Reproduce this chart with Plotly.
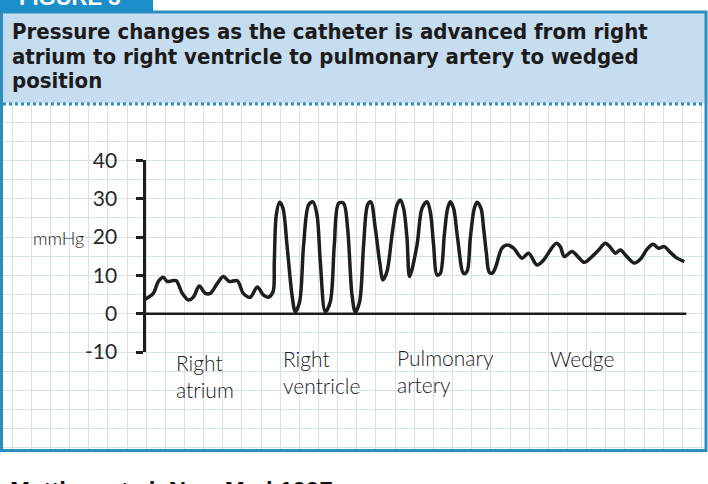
import plotly.graph_objects as go

# pressure trace (time in arbitrary units, mmHg)
time = [1, 9, 14, 19, 23, 28, 32, 38, 44, 49, 55, 61, 66, 73, 79, 85, 93, 99,
        106, 113, 119, 124, 128.7,
        130, 132, 135.3, 138.7, 142.7, 147.7, 151, 155.3, 159.3, 164.3, 168.7,
        172.7, 176, 181, 186, 190, 194.3, 199.3, 203.3, 207.7, 211, 215.3,
        219.3, 223.3, 226.5, 231, 235.3, 238.7,
        242.7, 247.7, 252.7, 256, 259.3, 262.7, 265.3, 272.7, 277.7, 282.7,
        286, 289.3, 292.7, 296, 300, 303.3, 306, 309.3, 313.3, 319.3, 322.7,
        326, 330, 332.7, 336.7, 339.3, 342, 345, 348, 351,
        357.7, 363.3, 369.3, 377.7, 384.3, 392.7, 399.3, 406, 412, 416, 420,
        427.7, 434.3, 440, 447.7, 454.3, 461, 466.7, 471, 476, 482.7, 490,
        496, 502.7, 508.7, 514.3, 520, 526, 532.7, 540]
pressure = [3.8, 5.3, 8.4, 9.5, 8.4, 8.6, 8.6, 5.3, 3.6, 4.3, 7.2, 5.3, 5.3,
            7.9, 9.7, 8.4, 8.6, 5.3, 4.3, 7.0, 4.9, 4.3, 5.7,
            13.6, 25.8, 29.1, 27.5, 17.9, 4.9, 0.5, 3.1, 17.9, 28.4, 29.2,
            25.8, 13.6, 0.5, 3.1, 17.9, 28.8, 28.8, 22.3, 4.9, 0.4, 3.1,
            17.9, 28.4, 29.2, 22.3, 13.6, 8.8,
            11.0, 20.5, 28.4, 29.7, 27.5, 19.7, 9.7, 17.9, 27.5, 29.2,
            26.6, 17.9, 10.1, 10.5, 20.5, 27.5, 29.2, 27.5, 19.7, 10.5, 11.0,
            19.7, 27.5, 29.1, 27.5, 22.3, 16.0, 10.8, 10.6, 11.9,
            17.1, 17.9, 17.1, 14.5, 15.8, 12.7, 14.0, 16.6, 18.4, 17.5, 14.9,
            16.2, 14.7, 13.4, 14.9, 16.6, 18.4, 17.1, 15.8, 16.6, 14.9, 13.2,
            14.2, 16.8, 18.1, 17.1, 17.5, 16.0, 14.5, 13.6]

y_ticks = [-10, 0, 10, 20, 30, 40]
sections = ["Right<br>atrium", "Right<br>ventricle", "Pulmonary<br>artery", "Wedge"]
title_lines = ["Pressure changes as the catheter is advanced from right",
               "atrium to right ventricle to pulmonary artery to wedged",
               "position"]

W, H = 708, 484
BLUE = "#2a8fbd"
INK = "#1e1e1e"
LIGHT = "Lato"
COND = "DejaVu Sans Condensed, DejaVu Sans, sans-serif"


def px(x, y):
    return x / W, 1 - y / H


# geometry of the page, in pixels
x0_axis, y_zero, unit = 144.3, 313.7, 3.832
box_l, box_r, box_t, box_b = 3, 705, 104, 451

fig = go.Figure()
# carrier on the full-frame axes so the background grid gets drawn
fig.add_trace(go.Scatter(x=[0] * len(y_ticks), y=y_ticks, mode="markers",
                         xaxis="x", yaxis="y", marker=dict(opacity=0),
                         hoverinfo="skip", showlegend=False))
fig.add_trace(go.Scatter(x=time, y=pressure, mode="lines", xaxis="x", yaxis="y2",
                         line=dict(color=INK, width=3.5, shape="spline", smoothing=0.9),
                         hoverinfo="skip", showlegend=False))

fig.update_layout(
    width=W, height=H, margin=dict(l=0, r=0, t=0, b=0, autoexpand=False),
    paper_bgcolor="white", plot_bgcolor="rgba(0,0,0,0)",
    xaxis=dict(domain=[box_l / W, box_r / W],
               range=[box_l - x0_axis, box_r - x0_axis],
               showgrid=True, gridcolor="#d5e3e7", gridwidth=1,
               tick0=21, dtick=19.15, showticklabels=False, ticks="",
               zeroline=False, showline=False, fixedrange=True, automargin=False),
    yaxis=dict(domain=[1 - box_b / H, 1 - box_t / H],
               range=[(y_zero - box_b) / unit, (y_zero - box_t) / unit],
               showgrid=True, gridcolor="#d5e3e7", gridwidth=1,
               tick0=0, dtick=5, showticklabels=False, ticks="",
               zeroline=False, showline=False, fixedrange=True, automargin=False),
    yaxis2=dict(domain=[1 - (y_zero + 10 * unit) / H, 1 - (y_zero - 40 * unit) / H],
                range=[-10, 40], anchor="free", position=x0_axis / W,
                tickvals=y_ticks, ticktext=[str(v) for v in y_ticks],
                ticks="outside", ticklen=7, tickwidth=3,
                tickcolor=INK, showline=True, linewidth=3, linecolor=INK,
                showgrid=False, zeroline=False, ticklabelstandoff=15,
                tickfont=dict(family=LIGHT, size=21, color="#2a2a2a"),
                fixedrange=True, automargin=False),
)

shapes = [
    # title band
    dict(type="rect", xref="paper", yref="paper", layer="below",
         x0=px(3, 0)[0], x1=px(705, 0)[0], y0=px(0, 103)[1], y1=px(0, 13)[1],
         fillcolor="#c6dcef", line=dict(width=0)),
    # dotted separator
    dict(type="line", xref="paper", yref="paper",
         x0=px(3, 0)[0], x1=px(705, 0)[0], y0=px(0, 104)[1], y1=px(0, 104)[1],
         line=dict(color="#2690c6", width=3, dash="dot")),
    # outer frame
    dict(type="rect", xref="paper", yref="paper",
         x0=px(1.5, 0)[0], x1=px(706, 0)[0], y0=px(0, 450.5)[1], y1=px(0, 12)[1],
         line=dict(color=BLUE, width=3)),
    # figure tab
    dict(type="rect", xref="paper", yref="paper",
         x0=0, x1=px(153, 0)[0], y0=px(0, 12)[1], y1=1.01,
         fillcolor="#1a8fc9", line=dict(width=0)),
    # baseline at 0 mmHg
    dict(type="line", xref="x", yref="y2", x0=0, x1=time[-1] + 2, y0=0, y1=0,
         line=dict(color=INK, width=2.5)),
]
fig.update_layout(shapes=shapes)

annotations = []
for line, yc in zip(title_lines, [31.5, 56, 80.5]):
    x, y = px(10, yc)
    annotations.append(dict(x=x, y=y, xref="paper", yref="paper", text=line,
                            xanchor="left", yanchor="middle", showarrow=False,
                            font=dict(family=COND, size=22,
                                      color="#1b1b1b", weight="bold")))

for label, (lx, ly) in zip(sections, [(174, 376), (281, 372), (395, 371), (548, 358)]):
    x, y = px(lx, ly)
    annotations.append(dict(x=x, y=y, xref="paper", yref="paper", text=label,
                            xanchor="left", yanchor="middle", align="left",
                            showarrow=False,
                            font=dict(family=LIGHT, size=21, color="#222", weight=300)))

x, y = px(31, 238)
annotations.append(dict(x=x, y=y, xref="paper", yref="paper", text="mmHg",
                        xanchor="left", yanchor="middle", showarrow=False,
                        font=dict(family=LIGHT, size=18, color="#222", weight=300)))

x, y = px(17, 12)
annotations.append(dict(x=x, y=y, xref="paper", yref="paper", text="FIGURE 3",
                        xanchor="left", yanchor="bottom", showarrow=False,
                        font=dict(family="Liberation Sans", size=22, color="white",
                                  weight="bold")))

x, y = px(8, 475)
annotations.append(dict(x=x, y=y, xref="paper", yref="paper",
                        text="Matthay et al. New Med 1997",
                        xanchor="left", yanchor="top", showarrow=False,
                        font=dict(family="Liberation Sans", size=24, color="#111",
                                  weight="bold")))
fig.update_layout(annotations=annotations)

fig.write_html("out.html", config={"displayModeBar": False},
               post_script="document.body.style.margin='0';")
